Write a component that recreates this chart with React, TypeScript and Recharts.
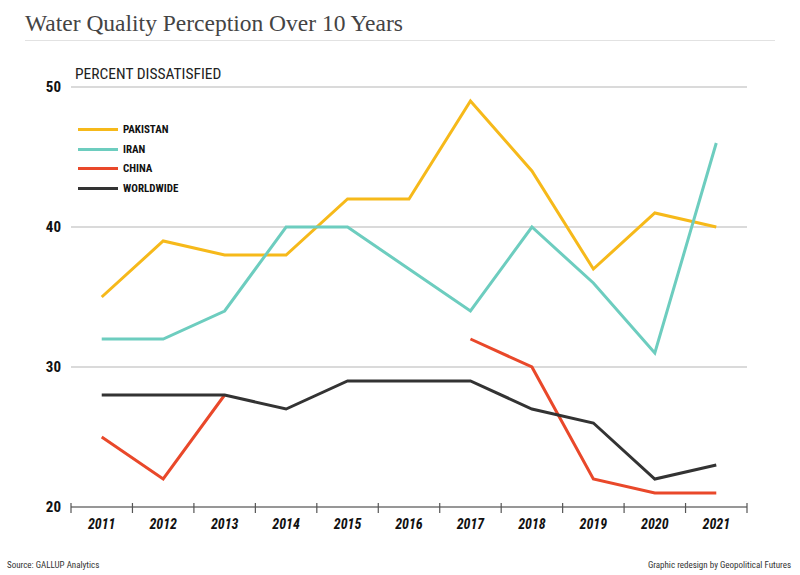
import React from 'react';
import { LineChart, Line, XAxis, YAxis, CartesianGrid } from 'recharts';

// Data (percent dissatisfied with water quality)
const YEARS = [2011, 2012, 2013, 2014, 2015, 2016, 2017, 2018, 2019, 2020, 2021];
const PAKISTAN = [35, 39, 38, 38, 42, 42, 49, 44, 37, 41, 40];
const IRAN = [32, 32, 34, 40, 40, 37, 34, 40, 36, 31, 46];
const CHINA: (number | null)[] = [25, 22, 28, null, null, null, 32, 30, 22, 21, 21];
const WORLDWIDE = [28, 28, 28, 27, 29, 29, 29, 27, 26, 22, 23];
const Y_TICKS = [20, 30, 40, 50];

const SERIES = [
  { key: 'pakistan', name: 'PAKISTAN', color: '#f6b91a' },
  { key: 'iran', name: 'IRAN', color: '#6dcdbf' },
  { key: 'china', name: 'CHINA', color: '#e9482a' },
  { key: 'worldwide', name: 'WORLDWIDE', color: '#333333' },
];

const data = YEARS.map((year, i) => ({
  year,
  pakistan: PAKISTAN[i],
  iran: IRAN[i],
  china: CHINA[i],
  worldwide: WORLDWIDE[i],
}));

// tick marks sit between the years
const BOUNDARY_TICKS = [...YEARS.map((y) => y - 0.5), YEARS[YEARS.length - 1] + 0.5];
const X_DOMAIN = [YEARS[0] - 0.5, YEARS[YEARS.length - 1] + 0.5];

const COND = '"Roboto Condensed", "DejaVu Sans Condensed", Roboto, sans-serif';

const YearTick = (props: any) => {
  const { x, y, payload } = props;
  return (
    <text
      x={x}
      y={y}
      dy="0.71em"
      textAnchor="middle"
      fontFamily={COND}
      fontWeight={700}
      fontStyle="italic"
      fontSize={14}
      fill="#111"
    >
      {payload.value}
    </text>
  );
};

const EmptyTick = () => <g />;

export default function App() {
  return (
    <div
      style={{
        position: 'absolute',
        left: 0,
        top: 0,
        width: 800,
        height: 575,
        background: '#fff',
        fontFamily: 'Roboto, sans-serif',
      }}
    >
      <div
        style={{
          position: 'absolute',
          left: 25,
          top: 10,
          fontFamily: '"Liberation Serif", serif',
          fontSize: 23.5,
          color: '#444',
          whiteSpace: 'nowrap',
        }}
      >
        Water Quality Perception Over 10 Years
      </div>
      <div style={{ position: 'absolute', left: 25, top: 40, width: 750, height: 1, background: '#e2e2e2' }} />
      <div
        style={{
          position: 'absolute',
          left: 75,
          top: 65,
          fontFamily: COND,
          fontSize: 15.5,
          color: '#222',
          whiteSpace: 'nowrap',
        }}
      >
        PERCENT DISSATISFIED
      </div>

      <div style={{ position: 'absolute', left: 0, top: 0 }}>
        <LineChart width={800} height={575} data={data} margin={{ top: 87, right: 53, bottom: 37, left: 41 }}>
          <CartesianGrid xAxisId="labels" vertical={false} stroke="#b5b5b5" strokeWidth={1} />
          {/* default-id axis: the dark baseline with tick marks between years */}
          <XAxis
            dataKey="year"
            type="number"
            domain={X_DOMAIN}
            ticks={BOUNDARY_TICKS}
            tick={<EmptyTick />}
            height={1}
            axisLine={{ stroke: '#555', strokeWidth: 1.2 }}
            tickLine={{ stroke: '#555', strokeWidth: 1.2, transform: 'translate(0,-4)' }}
            tickSize={10}
            interval={0}
          />
          <XAxis
            xAxisId="labels"
            dataKey="year"
            type="number"
            domain={X_DOMAIN}
            ticks={YEARS}
            interval={0}
            axisLine={false}
            tickLine={false}
            tickSize={0}
            tickMargin={11}
            height={30}
            tick={<YearTick />}
          />
          <YAxis
            domain={[20, 50]}
            ticks={Y_TICKS}
            width={30}
            axisLine={false}
            tickLine={false}
            tickSize={0}
            tickMargin={10}
            tick={{ fontFamily: COND, fontWeight: 700, fontSize: 15, fill: '#111' }}
          />
          {SERIES.map((s) => (
            <Line
              key={s.key}
              xAxisId="labels"
              dataKey={s.key}
              type="linear"
              stroke={s.color}
              strokeWidth={3}
              dot={false}
              activeDot={false}
              isAnimationActive={false}
            />
          ))}
        </LineChart>
      </div>

      <div style={{ position: 'absolute', left: 78, top: 120 }}>
        {SERIES.map((s) => (
          <div key={s.key} style={{ display: 'flex', alignItems: 'center', height: 19.6 }}>
            <div style={{ width: 40, height: 3, background: s.color, marginRight: 5 }} />
            <span style={{ fontFamily: COND, fontWeight: 700, fontSize: 11, color: '#111' }}>{s.name}</span>
          </div>
        ))}
      </div>

      <div style={{ position: 'absolute', left: 7, top: 560, fontSize: 9, color: '#333', fontFamily: COND }}>
        Source: GALLUP Analytics
      </div>
      <div style={{ position: 'absolute', right: 9, top: 560, fontSize: 9, color: '#333', fontFamily: COND }}>
        Graphic redesign by Geopolitical Futures
      </div>
    </div>
  );
}
